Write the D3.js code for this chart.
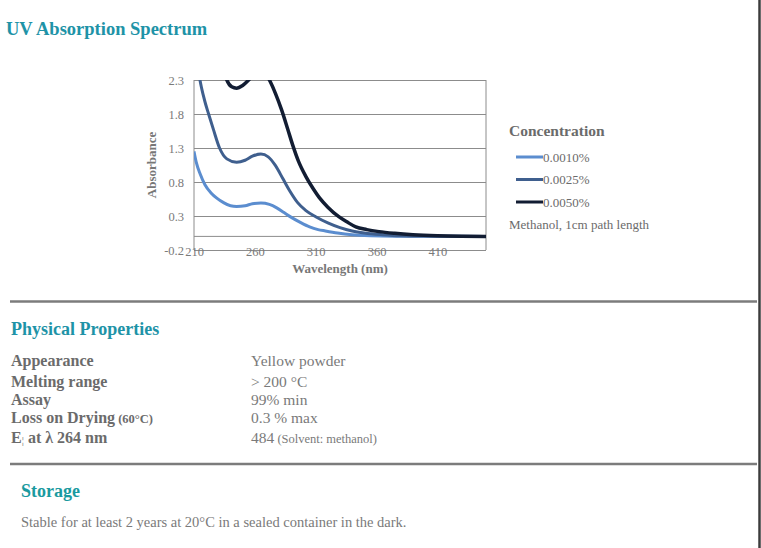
<!DOCTYPE html>
<html>
<head>
<meta charset="utf-8">
<style>
html, body {
  margin: 0px;
  padding: 0px;
  background: #fff;
}
svg {
  display: block;
  font-family: "Liberation Serif", "Times New Roman", serif;
}
</style>
</head>
<body>
<div id="chart"></div>
<script src="https://cdn.jsdelivr.net/npm/d3@7/dist/d3.min.js"></script>
<script>
  // wavelength (nm) / absorbance readings, one list per concentration
  var wl10 = [210, 212, 215, 219, 224, 229, 234, 240, 245, 252, 258, 265, 272, 278, 284, 290, 297, 305, 312, 318, 328, 340, 355, 375, 450];
  var abs10 = [1.25, 1.08, 0.92, 0.76, 0.64, 0.56, 0.5, 0.45, 0.44, 0.45, 0.48, 0.49, 0.47, 0.42, 0.35, 0.28, 0.21, 0.14, 0.1, 0.08, 0.05, 0.025, 0.01, 0.003, 0];

  var wl25 = [210, 213, 216, 219, 222, 226, 231, 237, 245, 252, 258, 265, 271, 277, 283, 289, 295, 302, 310, 320, 330, 340, 350, 365, 380, 400, 450];
  var abs25 = [2.9, 2.5, 2.2, 1.98, 1.8, 1.57, 1.3, 1.14, 1.09, 1.12, 1.18, 1.21, 1.17, 1.04, 0.85, 0.66, 0.5, 0.38, 0.29, 0.2, 0.13, 0.08, 0.05, 0.025, 0.01, 0.005, 0];

  var wl50 = [210, 220, 228, 233, 237, 241, 245, 250, 256, 263, 268, 272, 277, 282, 287, 291, 296, 302, 308, 313, 320, 329, 336, 343, 352, 362, 375, 390, 410, 430, 450];
  var abs50 = [4.6, 3.6, 2.9, 2.55, 2.3, 2.2, 2.18, 2.22, 2.32, 2.45, 2.42, 2.3, 2.1, 1.86, 1.58, 1.35, 1.1, 0.88, 0.7, 0.57, 0.43, 0.29, 0.21, 0.14, 0.1, 0.07, 0.045, 0.025, 0.01, 0.003, 0];

  var seriesNames = ["0.0010%", "0.0025%", "0.0050%"];
  var seriesColors = ["#5b8dcf", "#3f5f8e", "#121d33"];
  var xTicks = [210, 260, 310, 360, 410];
  var yTicks = [-0.2, 0.3, 0.8, 1.3, 1.8, 2.3];

  var propLabels = ["Appearance", "Melting range", "Assay", "Loss on Drying", "E"];
  var propNotes = ["", "", "", "(60°C)", ""];
  var propValues = ["Yellow powder", "> 200 °C", "99% min", "0.3 % max", "484"];
  var propValueNotes = ["", "", "", "", "(Solvent: methanol)"];

  var teal = "#1e93a7";
  var grey = "#6b6b6b";

  var svg = d3.select("#chart").append("svg")
    .attr("width", 761)
    .attr("height", 548);

  svg.append("rect").attr("width", 761).attr("height", 548).attr("fill", "#fff");

  svg.append("text")
    .attr("x", 6).attr("y", 35)
    .attr("font-size", 18.5).attr("font-weight", "bold")
    .attr("fill", teal)
    .text("UV Absorption Spectrum");

  // chart
  var x = d3.scaleLinear().domain([210, 450]).range([194, 486]);
  var y = d3.scaleLinear().domain([-0.2, 2.3]).range([250, 80]);

  var grid = svg.append("g")
    .attr("transform", "translate(194,0)")
    .call(d3.axisLeft(y).tickValues(yTicks).tickSize(-292).tickFormat(""));
  grid.select(".domain").remove();
  grid.selectAll("line").attr("stroke", "#8c8c8c");

  svg.append("line")
    .attr("x1", x(210)).attr("x2", x(450))
    .attr("y1", y(0)).attr("y2", y(0))
    .attr("stroke", "#8c8c8c");
  svg.append("line")
    .attr("x1", x(210)).attr("x2", x(210))
    .attr("y1", y(2.3)).attr("y2", y(-0.2))
    .attr("stroke", "#8c8c8c");
  svg.append("line")
    .attr("x1", x(450)).attr("x2", x(450))
    .attr("y1", y(2.3)).attr("y2", y(-0.2))
    .attr("stroke", "#8c8c8c");

  // plain hyphen for negatives, like the original
  var yFmt = function (d) { return d3.format(".1f")(d).replace("\u2212", "-"); };

  var yAxis = svg.append("g")
    .attr("transform", "translate(194,0)")
    .call(d3.axisLeft(y).tickValues(yTicks).tickSize(0).tickPadding(10).tickFormat(yFmt));
  yAxis.select(".domain").remove();
  yAxis.selectAll("text")
    .attr("font-family", "Liberation Serif")
    .attr("font-size", 12.5).attr("fill", "#7a7a7a");

  var xAxis = svg.append("g")
    .attr("transform", "translate(0,250)")
    .call(d3.axisBottom(x).tickValues(xTicks).tickSize(0).tickPadding(-3).tickFormat(d3.format("d")));
  xAxis.select(".domain").remove();
  xAxis.selectAll("text")
    .attr("font-family", "Liberation Serif")
    .attr("font-size", 12.5).attr("fill", "#7a7a7a");

  svg.append("text")
    .attr("transform", "translate(156,165) rotate(-90)")
    .attr("text-anchor", "middle")
    .attr("font-size", 13).attr("font-weight", "bold")
    .attr("fill", "#777")
    .text("Absorbance");

  svg.append("text")
    .attr("x", 340).attr("y", 273)
    .attr("text-anchor", "middle")
    .attr("font-size", 13).attr("font-weight", "bold")
    .attr("fill", "#777")
    .text("Wavelength (nm)");

  svg.append("clipPath").attr("id", "plotClip")
    .append("rect")
    .attr("x", x(210)).attr("y", y(2.3))
    .attr("width", x(450) - x(210)).attr("height", y(-0.2) - y(2.3));

  var series = [
    d3.zip(wl10, abs10),
    d3.zip(wl25, abs25),
    d3.zip(wl50, abs50)
  ];

  var line = d3.line()
    .x(function (d) { return x(d[0]); })
    .y(function (d) { return y(d[1]); })
    .curve(d3.curveMonotoneX);

  svg.append("g")
    .attr("clip-path", "url(#plotClip)")
    .selectAll("path")
    .data(series)
    .enter()
    .append("path")
    .attr("d", line)
    .attr("fill", "none")
    .attr("stroke", function (d, i) { return seriesColors[i]; })
    .attr("stroke-width", function (d, i) { return i == 2 ? 3.5 : 3; })
    .attr("stroke-linejoin", "round");

  // legend
  svg.append("text")
    .attr("x", 509).attr("y", 136)
    .attr("font-size", 15.5).attr("font-weight", "bold")
    .attr("fill", grey)
    .text("Concentration");

  var legend = svg.selectAll(".legendItem")
    .data(seriesNames)
    .enter()
    .append("g")
    .attr("class", "legendItem")
    .attr("transform", function (d, i) { return "translate(0," + (157 + i * 22.5) + ")"; });
  legend.append("line")
    .attr("x1", 516).attr("x2", 543)
    .attr("stroke", function (d, i) { return seriesColors[i]; })
    .attr("stroke-width", 3);
  legend.append("text")
    .attr("x", 543).attr("y", 4.5)
    .attr("font-size", 13).attr("fill", grey)
    .text(function (d) { return d; });

  svg.append("text")
    .attr("x", 509).attr("y", 229)
    .attr("font-size", 13).attr("fill", grey)
    .text("Methanol, 1cm path length");

  // rules
  svg.append("line")
    .attr("x1", 10).attr("x2", 757).attr("y1", 301.5).attr("y2", 301.5)
    .attr("stroke", "#7c7c7c").attr("stroke-width", 2.5);
  svg.append("line")
    .attr("x1", 10).attr("x2", 757).attr("y1", 464).attr("y2", 464)
    .attr("stroke", "#7c7c7c").attr("stroke-width", 2.5);
  svg.append("line")
    .attr("x1", 759.5).attr("x2", 759.5).attr("y1", 0).attr("y2", 548)
    .attr("stroke", "#3c3c3c").attr("stroke-width", 2.5);

  // physical properties
  svg.append("text")
    .attr("x", 11).attr("y", 335)
    .attr("font-size", 18).attr("font-weight", "bold")
    .attr("fill", teal)
    .text("Physical Properties");

  var rowY = [366, 387, 405, 423, 443];

  var labels = svg.selectAll(".propLabel")
    .data(propLabels)
    .enter()
    .append("text")
    .attr("class", "propLabel")
    .attr("x", 11)
    .attr("y", function (d, i) { return rowY[i]; })
    .attr("font-size", 16).attr("font-weight", "bold")
    .attr("fill", grey);
  labels.each(function (d, i) {
    var t = d3.select(this);
    t.append("tspan").text(d);
    if (propNotes[i]) {
      t.append("tspan").attr("font-size", 12.5).text(" " + propNotes[i]);
    }
    if (i == 4) {
      t.append("tspan").attr("font-size", 11).attr("font-weight", "normal").attr("dy", 1).text("¦");
      t.append("tspan").attr("dy", -1).text(" at λ 264 nm");
    }
  });

  var values = svg.selectAll(".propValue")
    .data(propValues)
    .enter()
    .append("text")
    .attr("class", "propValue")
    .attr("x", 251)
    .attr("y", function (d, i) { return rowY[i]; })
    .attr("font-size", 15.5)
    .attr("fill", "#7a7a7a");
  values.each(function (d, i) {
    var t = d3.select(this);
    t.append("tspan").text(d);
    if (propValueNotes[i]) {
      t.append("tspan").attr("font-size", 12.5).text(" " + propValueNotes[i]);
    }
  });

  // storage
  svg.append("text")
    .attr("x", 21).attr("y", 497)
    .attr("font-size", 18).attr("font-weight", "bold")
    .attr("fill", "#1a9a9f")
    .text("Storage");

  svg.append("text")
    .attr("x", 21).attr("y", 527)
    .attr("font-size", 14.5)
    .attr("fill", "#7a7a7a")
    .text("Stable for at least 2 years at 20°C in a sealed container in the dark.");
</script>
</body>
</html>
